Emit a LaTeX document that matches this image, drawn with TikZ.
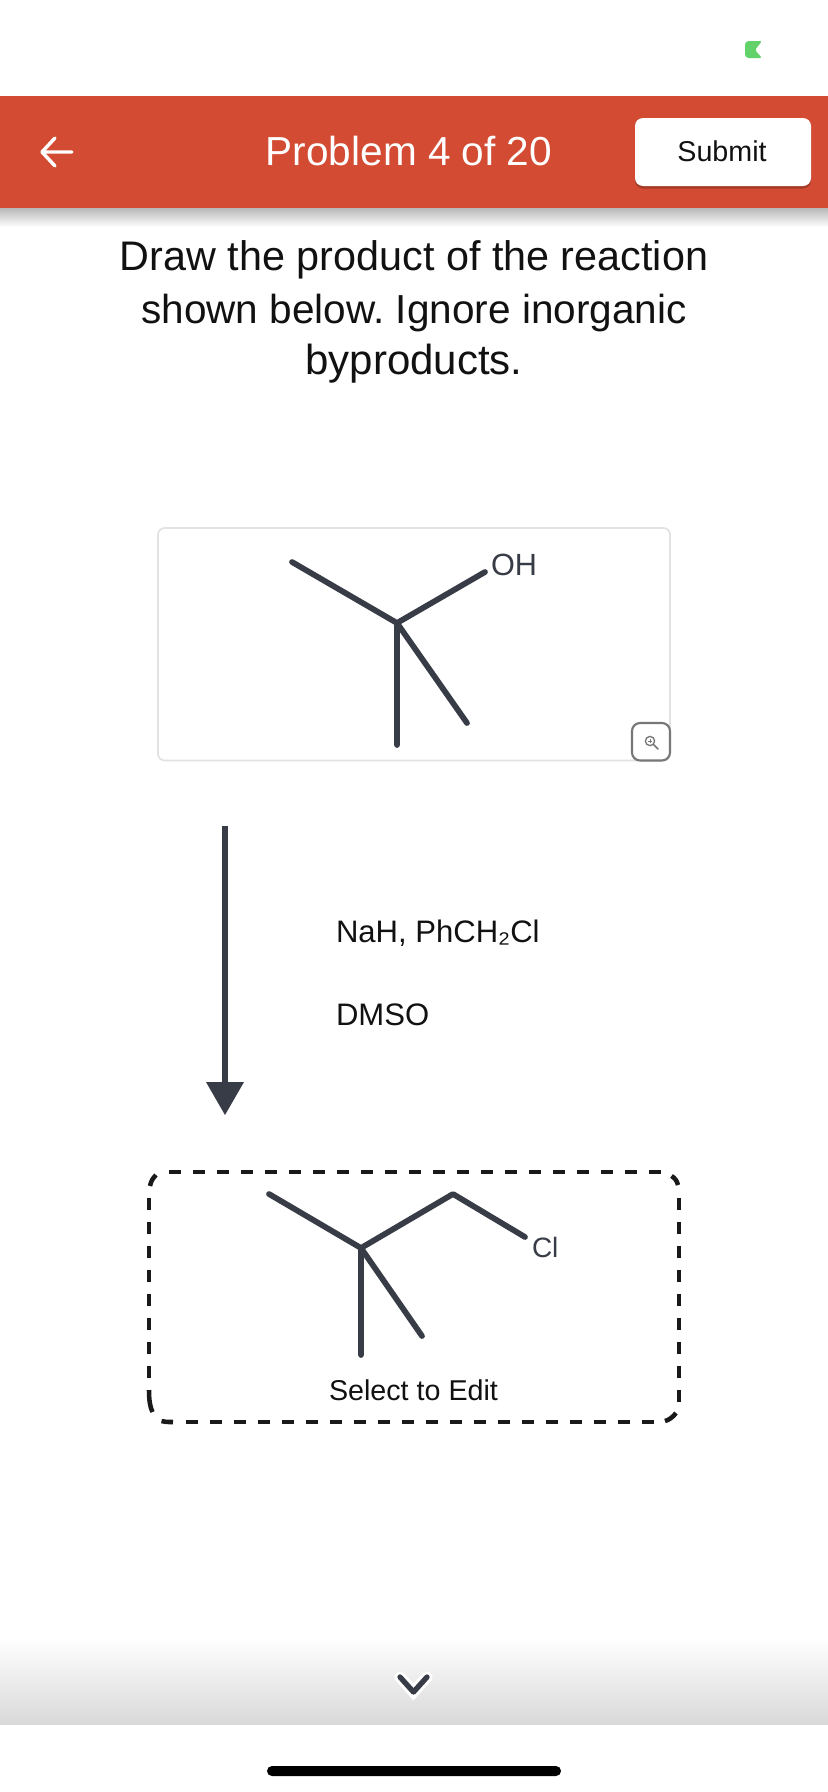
\documentclass[tikz,border=0pt]{standalone}
\usepackage{fontspec}
\setmainfont{Liberation Sans}
\usetikzlibrary{arrows.meta}
\definecolor{hdr}{HTML}{D34B33}
\definecolor{ink}{HTML}{383C46}
\definecolor{txt}{HTML}{111111}
\definecolor{bordr}{HTML}{E2E2E2}
\definecolor{zoomc}{HTML}{777777}
\definecolor{grn}{HTML}{64D26A}
\newcommand{\fs}[1]{\fontsize{#1}{#1}\selectfont\frenchspacing}
\tikzset{
  bond/.style={draw=ink,line width=4.3pt,line cap=round,line join=round},
  lab/.style={inner sep=0pt,outer sep=0pt,anchor=base west},
  mid/.style={inner sep=0pt,outer sep=0pt,anchor=base},
  dashside/.style={draw=black!90,line width=3.4pt,dash pattern=on 9pt off 9pt},
  dashcorner/.style={draw=black!90,line width=3.4pt},
}
\begin{document}
\begin{tikzpicture}[x=0.75pt,y=-0.75pt]
\useasboundingbox (0,0) rectangle (828,1792);
\fill[white] (0,0) rectangle (828,1792);
% status glyph
\fill[grn,rounded corners=1.2pt] (747,41) -- (762,41) -- (755,50) -- (762,58) -- (747,58) -- (745,56) -- (745,43) -- cycle;
% header
\shade[top color=black!28,bottom color=white] (0,208) rectangle (828,227);
\fill[hdr] (0,96) rectangle (828,208);
\fill[black!22!hdr,rounded corners=6pt] (635,121) rectangle (811,188.5);
\node[draw=none,fill=white,rounded corners=6pt,minimum width=132pt,minimum height=51pt,inner sep=0pt] (submit) at (723,152) {};
\node[mid,text=txt,font=\fs{21.5}] (submittxt) at (722,161) {Submit};
\node[mid,text=white,font=\fs{30.4}] (title) at (409,165) {Problem 4 of 20};
\coordinate (bk1) at (72,152); \coordinate (bk2) at (42,152);
\coordinate (bk3) at (55,138); \coordinate (bk4) at (55,166);
\draw[white,line width=2.6pt,line cap=round,line join=round] (bk1) -- (bk2) (bk3) -- (bk2) -- (bk4);
% question
\node[mid,text=txt,font=\fs{31}] (q1) at (414,270) {Draw the product of the reaction};
\node[mid,text=txt,font=\fs{30.4}] (q2) at (414,323) {shown below. Ignore inorganic};
\node[mid,text=txt,font=\fs{31.5}] (q3) at (414,374) {byproducts.};
% reactant panel
\draw[bordr,line width=1.3pt,rounded corners=5pt,fill=white] (158,528) rectangle (670,760.5);
\coordinate (c) at (397,623);
\coordinate (m1) at (292,562);
\coordinate (o) at (485,572);
\coordinate (m2) at (397,745);
\coordinate (m3) at (467,723);
\draw[bond] (m1) -- (c) -- (o) (c) -- (m2) (c) -- (m3);
\node[lab,text=ink,font=\fs{23}] (oh) at (491,575) {OH};
% zoom button
\draw[zoomc,line width=1.6pt,rounded corners=6pt,fill=white] (632,723) rectangle (670,760.5);
\draw[zoomc,line width=1pt] (650,741) circle (4.6);
\draw[zoomc,line width=.7pt] (647.6,741) -- (652.4,741) (650,738.6) -- (650,743.4);
\draw[zoomc,line width=1.3pt,line cap=round] (653.6,744.6) -- (658,749);
% reaction arrow
\coordinate (a1) at (225,826);
\coordinate (a2) at (225,1090);
\draw[ink,line width=5.2pt] (a1) -- (a2);
\fill[ink] (206,1082) -- (244,1082) -- (225,1115) -- cycle;
\node[lab,text=txt,font=\fs{23.3}] (r1) at (336,942) {NaH, PhCH₂Cl};
\node[lab,text=txt,font=\fs{23.3}] (r2) at (336,1025) {DMSO};
% answer box
\draw[dashside] (168.6,1172) -- (660.6,1172);
\draw[dashside] (679,1198) -- (679,1403);
\draw[dashside] (186,1422) -- (654,1422);
\draw[dashside] (149,1198) -- (149,1378);
\draw[dashcorner] (150,1186) .. controls (151,1181) and (153,1178) .. (156,1175);
\draw[dashcorner] (671.5,1176) .. controls (675,1178) and (677,1181) .. (678,1185);
\draw[dashcorner] (665,1421) .. controls (669,1420) and (673,1417) .. (676,1413);
\draw[dashcorner] (149,1390) .. controls (149,1400) and (150,1407) .. (152.5,1412);
\draw[dashcorner] (161.5,1421) .. controls (164,1422) and (167,1422) .. (173,1422);
\coordinate (pc) at (361,1248);
\coordinate (p1) at (269,1194);
\coordinate (p2) at (453,1194);
\coordinate (pcl) at (525,1237);
\coordinate (p3) at (361,1355);
\coordinate (p4) at (422,1336);
\draw[bond] (p1) -- (pc) -- (p2) -- (pcl) (pc) -- (p3) (pc) -- (p4);
\node[lab,text=ink,font=\fs{21}] (cl) at (532,1257) {Cl};
\node[mid,text=txt,font=\fs{21.5}] (sel) at (413.5,1400) {Select to Edit};
% bottom bar
\shade[top color=white,bottom color=black!15] (0,1637) rectangle (828,1724);
\coordinate (ch1) at (400,1677); \coordinate (ch2) at (413.5,1692); \coordinate (ch3) at (427,1677);
\draw[white,line width=8.5pt,line join=miter,line cap=round] (ch1) -- (ch2) -- (ch3);
\draw[ink,line width=4pt,line join=round,line cap=round] (ch1) -- (ch2) -- (ch3);
\fill[black,rounded corners=3.7pt] (267,1766) rectangle (561,1776);
\end{tikzpicture}
\end{document}
